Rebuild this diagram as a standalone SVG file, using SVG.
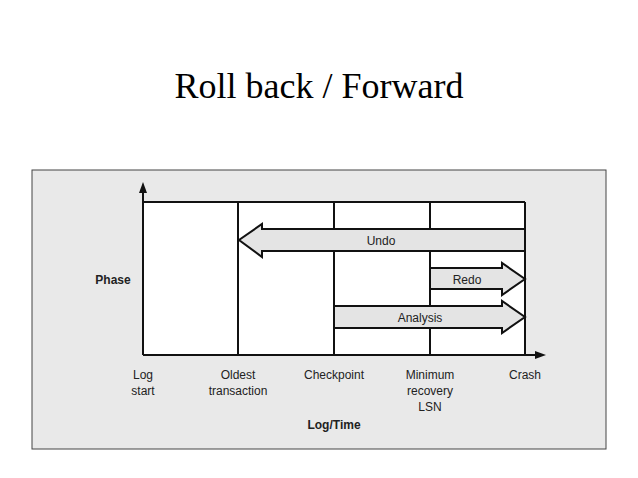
<svg xmlns="http://www.w3.org/2000/svg" width="638" height="478" viewBox="0 0 638 478">
<style>
.t{font-family:"Liberation Sans",Arial,sans-serif;font-size:12px;fill:#222;text-anchor:middle}
.ln{stroke:#111;stroke-width:2;fill:none}
.ar{fill:#e4e4e4;stroke:#111;stroke-width:2;stroke-linejoin:miter}
</style>
<rect width="638" height="478" fill="#fff"/>
<text x="319" y="98" font-family="Liberation Serif,serif" font-size="36" text-anchor="middle" fill="#000">Roll back / Forward</text>
<rect x="32" y="170" width="574" height="279" fill="#e9e9e9" stroke="#444" stroke-width="1"/>
<rect x="143" y="202" width="382" height="153" fill="#fff"/>
<g id="grid">
<line class="ln" x1="143" y1="202" x2="525" y2="202"/>
<line class="ln" x1="238" y1="202" x2="238" y2="355"/>
<line class="ln" x1="334" y1="202" x2="334" y2="355"/>
<line class="ln" x1="430" y1="202" x2="430" y2="355"/>
<line class="ln" x1="525" y1="202" x2="525" y2="355"/>
<line class="ln" x1="143" y1="355" x2="537" y2="355"/>
<line class="ln" x1="143" y1="355" x2="143" y2="192"/>
<polygon points="143,182 139,193 147,193" fill="#111"/>
<polygon points="546,355 535,351 535,359" fill="#111"/>
</g>
<g id="undo"><polygon class="ar" points="525,229 262,229 262,224 239,240 262,257 262,251 525,251"/><text class="t" x="381" y="245">Undo</text></g>
<g id="redo"><polygon class="ar" points="430,268 502,268 502,263 525,279 502,295 502,289 430,289"/><text class="t" x="467" y="284">Redo</text></g>
<g id="analysis"><polygon class="ar" points="334,306 502,306 502,301 525,317 502,333 502,328 334,328"/><text class="t" x="420" y="322">Analysis</text></g>
<g id="labels">
<text class="t" x="113" y="284" font-weight="bold">Phase</text>
<text class="t" x="143" y="379">Log</text><text class="t" x="143" y="395">start</text>
<text class="t" x="238" y="379">Oldest</text><text class="t" x="238" y="395">transaction</text>
<text class="t" x="334" y="379">Checkpoint</text>
<text class="t" x="430" y="379">Minimum</text><text class="t" x="430" y="395">recovery</text><text class="t" x="430" y="411">LSN</text>
<text class="t" x="525" y="379">Crash</text>
<text class="t" x="334" y="429" font-weight="bold">Log/Time</text>
</g>
</svg>
